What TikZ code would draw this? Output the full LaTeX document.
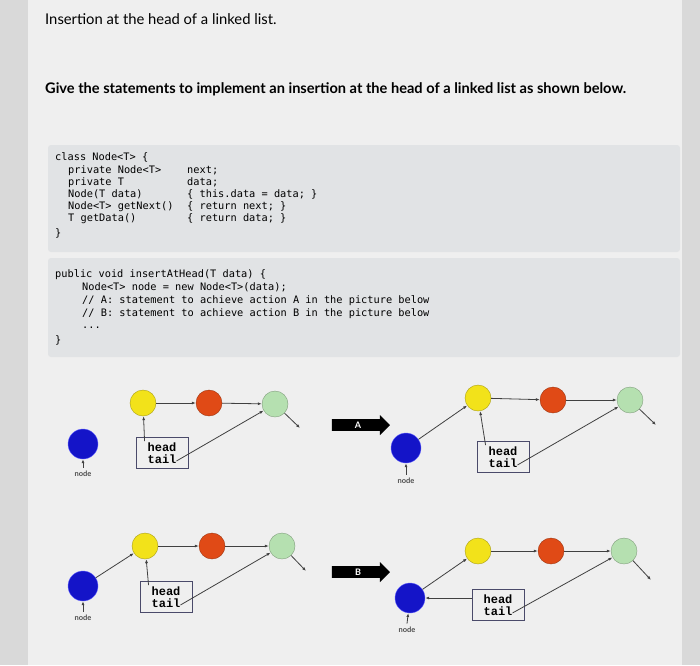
\documentclass[tikz,border=0pt]{standalone}
\usepackage{fontspec}
\setmainfont{Lato}
\newfontfamily\codef{DejaVu Sans Mono}
\newfontfamily\courf{Liberation Mono}
\usetikzlibrary{arrows.meta,shapes.arrows}
\definecolor{bgc}{HTML}{D9D9D9}
\definecolor{pan}{HTML}{EFEFEF}
\definecolor{codebox}{HTML}{E1E3E5}
\definecolor{yel}{HTML}{F2E21A}
\definecolor{redn}{HTML}{E04A16}
\definecolor{grn}{HTML}{B5E0B0}
\definecolor{blu}{HTML}{1414C8}
\definecolor{boxc}{HTML}{4A4A6A}
\tikzset{
 ln/.style={circle,minimum size=26pt,inner sep=0,draw=#1!70!black,fill=#1},
 bn/.style={circle,minimum size=30pt,inner sep=0,draw=blue!60,fill=blu},
 hbox/.style={draw=boxc,line width=0.9pt,minimum width=52pt,minimum height=31pt,inner sep=1pt,align=left,font=\courf\bfseries\fontsize{12}{12.5}\selectfont,fill=pan},
 lk/.style={-{Latex[length=4pt,width=3pt]},draw=black!75,line width=0.8pt},
 nl/.style={font=\bfseries\fontsize{7.5}{8}\selectfont,text=black!70},
 code/.style={anchor=base west,inner sep=0,font=\codef\fontsize{10.3}{11}\selectfont},
 bigarr/.style={single arrow,fill=black,minimum height=58pt,minimum width=20pt,single arrow head extend=3pt,inner sep=1pt,text=white,font=\bfseries\fontsize{9}{9}\selectfont}
}
\begin{document}
\begin{tikzpicture}[x=1pt,y=-1pt]
\useasboundingbox (0,0) rectangle (700,665);
\fill[bgc] (0,0) rectangle (700,665);
\fill[pan] (28,0) rectangle (682,665);
\node[anchor=base west,inner sep=0,font=\fontsize{14.8}{15}\selectfont] (title) at (45,24) {Insertion at the head of a linked list.};
\node[anchor=base west,inner sep=0,font=\bfseries\fontsize{14.6}{15}\selectfont] (q) at (45,93) {Give the statements to implement an insertion at the head of a linked list as shown below.};
\fill[codebox,rounded corners=3pt] (48,145) rectangle (680,252);
\fill[codebox,rounded corners=3pt] (48,258) rectangle (680,357);
\node[code] (c1) at (55,160) {class Node<T> \{};
\node[code] (c2) at (68,173) {private Node<T>};
\node[code] (c2b) at (187,173) {next;};
\node[code] (c3) at (68,185) {private T};
\node[code] (c3b) at (187,185) {data;};
\node[code] (c4) at (68,197) {Node(T data)};
\node[code] (c4b) at (187,197) {\{ this.data = data; \}};
\node[code] (c5) at (68,209) {Node<T> getNext()};
\node[code] (c5b) at (187,209) {\{ return next; \}};
\node[code] (c6) at (68,221) {T getData()};
\node[code] (c6b) at (187,221) {\{ return data; \}};
\node[code] (c7) at (55,236) {\}};
\node[code] (d1) at (55,277) {public void insertAtHead(T data) \{};
\node[code] (d2) at (82,290) {Node<T> node = new Node<T>(data);};
\node[code] (d3) at (82,303) {// A: statement to achieve action A in the picture below};
\node[code] (d4) at (82,316) {// B: statement to achieve action B in the picture below};
\node[code] (d5) at (82,328) {...};
\node[code] (d6) at (55,343) {\}};
% top-left
\node[ln=yel] (y1) at (143,403) {};
\node[ln=redn] (r1) at (209,403) {};
\node[ln=grn] (g1) at (275,404) {};
\node[bn] (b1) at (83,444) {};
\node[hbox] (h1) at (162,453) {head\\tail};
\node[nl] (n1) at (83,474) {node};
\coordinate (e1) at (300,428);
\draw[lk] (y1)--(r1); \draw[lk] (r1)--(g1); \draw[lk] (g1)--(e1);
\draw[lk] (h1.north west)++(9,4) -- (y1);
\draw[lk] (h1.east)++(-12,8) -- (g1);
\draw[lk] (n1.north) -- (b1);
\node[bigarr] (A) at (358,425) {A};
% top-right
\node[ln=yel] (y2) at (478,398) {};
\node[ln=redn] (r2) at (553,400) {};
\node[ln=grn] (g2) at (630,400) {};
\node[bn] (b2) at (406,448) {};
\node[hbox] (h2) at (503,457) {head\\tail};
\node[nl] (n2) at (406,481) {node};
\coordinate (e2) at (656,425);
\draw[lk] (y2)--(r2); \draw[lk] (r2)--(g2); \draw[lk] (g2)--(e2);
\draw[lk] (b2)--(y2);
\draw[lk] (h2.north west)++(9,4) -- (y2);
\draw[lk] (h2.east)++(-12,8) -- (g2);
\draw[lk] (n2.north) -- (b2);
% bottom-left
\node[ln=yel] (y3) at (145,546) {};
\node[ln=redn] (r3) at (212,546) {};
\node[ln=grn] (g3) at (282,546) {};
\node[bn] (b3) at (83,586) {};
\node[hbox] (h3) at (166,597) {head\\tail};
\node[nl] (n3) at (83,618) {node};
\coordinate (e3) at (306,571);
\draw[lk] (y3)--(r3); \draw[lk] (r3)--(g3); \draw[lk] (g3)--(e3);
\draw[lk] (b3)--(y3);
\draw[lk] (h3.north west)++(9,4) -- (y3);
\draw[lk] (h3.east)++(-12,8) -- (g3);
\draw[lk] (n3.north) -- (b3);
\node[bigarr] (B) at (358,572) {B};
% bottom-right
\node[ln=yel] (y4) at (478,551) {};
\node[ln=redn] (r4) at (551,551) {};
\node[ln=grn] (g4) at (624,551) {};
\node[bn] (b4) at (410,598) {};
\node[hbox] (h4) at (498,605) {head\\tail};
\node[nl] (n4) at (407,630) {node};
\coordinate (e4) at (651,580);
\draw[lk] (y4)--(r4); \draw[lk] (r4)--(g4); \draw[lk] (g4)--(e4);
\draw[lk] (b4)--(y4);
\draw[lk] (h4.west|-b4) -- (b4);
\draw[lk] (h4.east)++(-12,8) -- (g4);
\draw[lk] (n4.north) -- (b4);
\end{tikzpicture}
\end{document}
